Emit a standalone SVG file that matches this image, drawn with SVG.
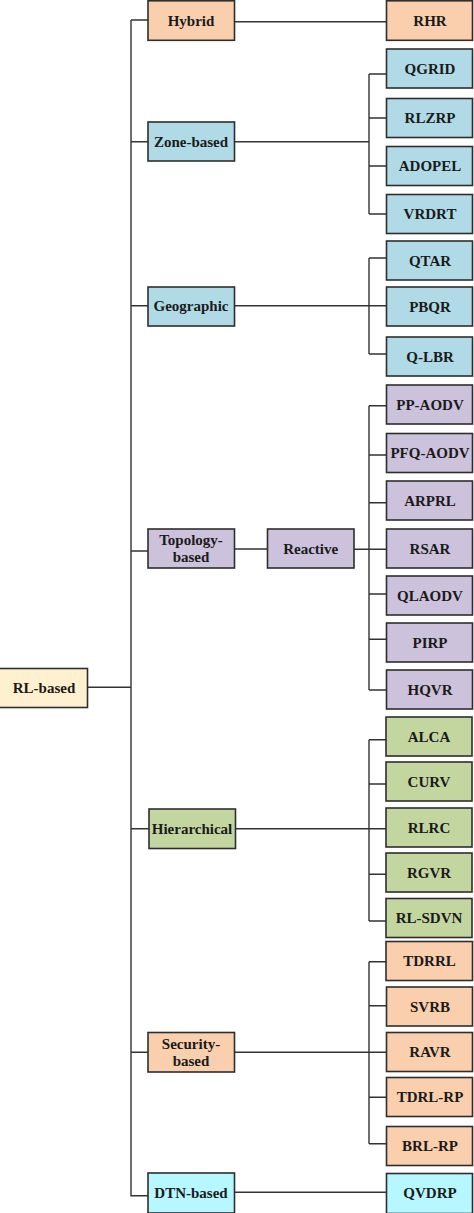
<svg xmlns="http://www.w3.org/2000/svg" width="474" height="1213" viewBox="0 0 474 1213">
<style>
rect{stroke:#2e2e2e;stroke-width:1.6}
.pe{fill:#F9CFAE}.bl{fill:#B0DBE6}.pu{fill:#CCC2DB}.gr{fill:#C4D6A0}.ye{fill:#FFF1CF}.cy{fill:#B7F7FF}
text{font-family:"Liberation Serif","Times New Roman",serif;font-weight:bold;font-size:15px;fill:#1a1a1a;text-anchor:middle}
#connectors path{fill:none;stroke:#333;stroke-width:1.4}
</style>
<rect width="474" height="1213" fill="#fff" style="stroke:none"/>
<g id="connectors">
<path d="M88 687.3H131M131 20V1195.7H148M131 20H148M131 141.7H148M131 305.7H148M131 551H148M131 828.7H149M131 1052.3H148"/>
<path d="M234.5 21.7H386.5"/>
<path d="M234.5 141.7H369M369 74V214M369 74H386.5M369 118H386.5M369 166H386.5M369 214H386.5"/>
<path d="M234.5 305.7H386.5M369 258V354M369 258H386.5M369 354H386.5"/>
<path d="M234.5 549H267.5M354 549.3H386.5M369 405.7V690M369 405.7H386.5M369 455H386.5M369 502.7H386.5M369 594H386.5M369 639.3H386.5M369 690H386.5"/>
<path d="M235.5 828.7H386M369 739.7V921M369 739.7H386M369 784H386M369 874.3H386M369 921H386"/>
<path d="M234.5 1052.3H386.5M369 961.7V1143.7M369 961.7H386M369 1005.7H386.5M369 1097.3H386.5M369 1143.7H386.5"/>
<path d="M234.5 1192.3H386.5"/>
</g>
<g id="n-rlbased"><rect class="ye" x="-1" y="668.5" width="88.5" height="39"/><text x="44" y="693">RL-based</text></g>
<g id="n-hybrid"><rect class="pe" x="148" y="0.8" width="86.5" height="39.5"/><text x="191" y="26">Hybrid</text></g>
<g id="n-zone"><rect class="bl" x="148" y="122" width="86.5" height="39"/><text x="191" y="146.5">Zone-based</text></g>
<g id="n-geo"><rect class="bl" x="148" y="287" width="86.5" height="39"/><text x="191" y="311">Geographic</text></g>
<g id="n-topo"><rect class="pu" x="148" y="529" width="86.5" height="39"/><text x="191" y="545">Topology-</text><text x="191" y="562">based</text></g>
<g id="n-reactive"><rect class="pu" x="267.5" y="529" width="86.5" height="39"/><text x="310.7" y="554">Reactive</text></g>
<g id="n-hier"><rect class="gr" x="149" y="809" width="86.5" height="39.5"/><text x="192" y="834">Hierarchical</text></g>
<g id="n-sec"><rect class="pe" x="148" y="1032.5" width="86.5" height="39.5"/><text x="191" y="1048.5">Security-</text><text x="191" y="1065.5">based</text></g>
<g id="n-dtn"><rect class="cy" x="148" y="1173" width="86.5" height="40"/><text x="191" y="1197.5">DTN-based</text></g>
<g id="n-rhr"><rect class="pe" x="386.5" y="0.8" width="86" height="39.5"/><text x="430" y="26">RHR</text></g>
<g id="n-qgrid"><rect class="bl" x="386.5" y="49" width="86" height="39"/><text x="430" y="73.5">QGRID</text></g>
<g id="n-rlzrp"><rect class="bl" x="386.5" y="98.5" width="86" height="39"/><text x="430" y="123">RLZRP</text></g>
<g id="n-adopel"><rect class="bl" x="386.5" y="146.5" width="86" height="39"/><text x="430" y="171">ADOPEL</text></g>
<g id="n-vrdrt"><rect class="bl" x="386.5" y="194.5" width="86" height="39"/><text x="430" y="219">VRDRT</text></g>
<g id="n-qtar"><rect class="bl" x="386.5" y="241" width="86" height="39"/><text x="430" y="265.5">QTAR</text></g>
<g id="n-pbqr"><rect class="bl" x="386.5" y="287" width="86" height="39"/><text x="430" y="311.5">PBQR</text></g>
<g id="n-qlbr"><rect class="bl" x="386.5" y="337" width="86" height="39"/><text x="430" y="361.5">Q-LBR</text></g>
<g id="n-ppaodv"><rect class="pu" x="386.5" y="385" width="86" height="39"/><text x="430" y="409.5">PP-AODV</text></g>
<g id="n-pfqaodv"><rect class="pu" x="386.5" y="433.5" width="86" height="39"/><text x="430" y="458">PFQ-AODV</text></g>
<g id="n-arprl"><rect class="pu" x="386.5" y="481" width="86" height="39"/><text x="430" y="505.5">ARPRL</text></g>
<g id="n-rsar"><rect class="pu" x="386.5" y="529" width="86" height="39"/><text x="430" y="553.5">RSAR</text></g>
<g id="n-qlaodv"><rect class="pu" x="386.5" y="576" width="86" height="39"/><text x="430" y="600.5">QLAODV</text></g>
<g id="n-pirp"><rect class="pu" x="386.5" y="623" width="86" height="39"/><text x="430" y="647.5">PIRP</text></g>
<g id="n-hqvr"><rect class="pu" x="386.5" y="670" width="86" height="39"/><text x="430" y="694.5">HQVR</text></g>
<g id="n-alca"><rect class="gr" x="386" y="717" width="86" height="39"/><text x="429" y="741.5">ALCA</text></g>
<g id="n-curv"><rect class="gr" x="386" y="762" width="86" height="39"/><text x="429" y="786.5">CURV</text></g>
<g id="n-rlrc"><rect class="gr" x="386" y="808" width="86" height="39"/><text x="429" y="832.5">RLRC</text></g>
<g id="n-rgvr"><rect class="gr" x="386" y="853" width="86" height="39"/><text x="429" y="877.5">RGVR</text></g>
<g id="n-rlsdvn"><rect class="gr" x="386" y="898.5" width="86" height="39"/><text x="429" y="923">RL-SDVN</text></g>
<g id="n-tdrrl"><rect class="pe" x="386" y="941.5" width="86.5" height="39"/><text x="429.5" y="966">TDRRL</text></g>
<g id="n-svrb"><rect class="pe" x="386.5" y="987" width="86" height="39"/><text x="430" y="1011.5">SVRB</text></g>
<g id="n-ravr"><rect class="pe" x="386.5" y="1032.5" width="86" height="39"/><text x="430" y="1057">RAVR</text></g>
<g id="n-tdrlrp"><rect class="pe" x="386.5" y="1077.5" width="86" height="39"/><text x="430" y="1102">TDRL-RP</text></g>
<g id="n-brlrp"><rect class="pe" x="386.5" y="1126.5" width="86" height="39"/><text x="430" y="1151">BRL-RP</text></g>
<g id="n-qvdrp"><rect class="cy" x="386.5" y="1173.5" width="86" height="40"/><text x="430" y="1197.5">QVDRP</text></g>
</svg>
